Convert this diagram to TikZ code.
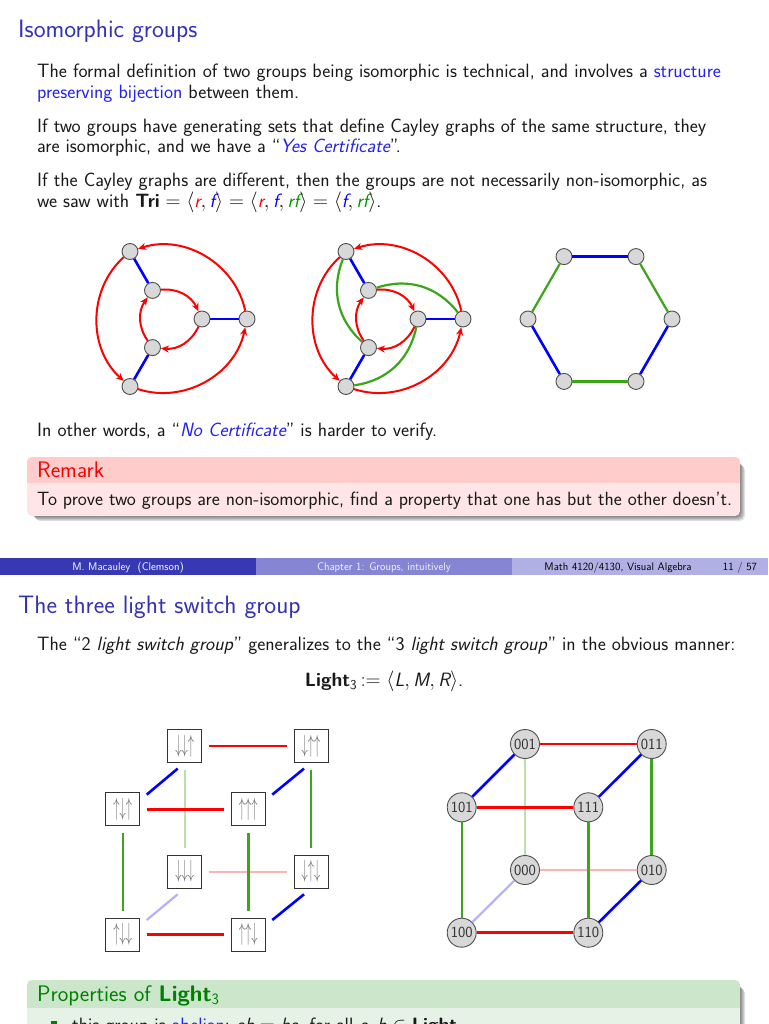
\documentclass[tikz,border=0pt]{standalone}
\usepackage{fontspec}
\usepackage{graphicx}
\renewcommand{\familydefault}{\sfdefault}
\usetikzlibrary{arrows.meta,calc}
\definecolor{sblue}{RGB}{51,51,179}
\definecolor{lnk}{RGB}{35,35,235}
\definecolor{egreen}{RGB}{0,128,0}
\definecolor{rfgreen}{RGB}{0,150,0}
\definecolor{gred}{RGB}{255,0,0}
\definecolor{gblue}{RGB}{0,0,255}
\definecolor{ggreen}{RGB}{60,165,25}
\definecolor{vfill}{RGB}{216,216,216}
\definecolor{vline}{RGB}{80,80,80}
\definecolor{arrgray}{RGB}{110,110,110}
\definecolor{remhd}{RGB}{255,204,204}
\definecolor{rembd}{RGB}{255,229,229}
\definecolor{exhd}{RGB}{204,230,204}
\definecolor{exbd}{RGB}{229,242,229}
\definecolor{txtc}{RGB}{25,25,25}
\definecolor{footA}{RGB}{56,56,180}
\definecolor{footB}{RGB}{133,133,212}
\definecolor{footC}{RGB}{176,176,228}
\newcommand{\bodyfont}{\fontsize{19.3}{23}\selectfont}
\newcommand{\titlefont}{\fontsize{25.2}{30}\selectfont}
\newcommand{\blockfont}{\fontsize{22.5}{27}\selectfont}
\newcommand{\footfont}{\fontsize{11}{13}\selectfont}
\newcommand{\arrs}[3]{\scalebox{0.5}[1]{$#1#2#3$}}
\newcommand{\vi}[1]{\mbox{\itshape #1}}
\tikzset{
 txt/.style={anchor=base west, inner sep=0pt, font=\bodyfont, text=txtc},
 ttl/.style={anchor=base west, inner sep=0pt, font=\titlefont, text=sblue},
 foot/.style={anchor=base, inner sep=0pt, font=\footfont},
 vtx/.style={circle, fill=vfill, draw=vline, line width=0.9pt, minimum size=16pt, inner sep=0pt},
 rarc/.style={draw=gred, line width=2pt, -{Stealth[length=8pt,width=7pt,inset=2.5pt]}},
 bspoke/.style={draw=gblue, line width=2.6pt},
 gedge/.style={draw=ggreen, line width=2.2pt},
 sbox/.style={draw=black!80, line width=1pt, minimum width=34pt, minimum height=33pt, inner sep=0pt, text=arrgray, font=\fontsize{32}{32}\selectfont},
 cnode/.style={circle, draw=vline, fill=vfill, line width=0.9pt, minimum size=29pt, inner sep=0pt, font=\fontsize{15.5}{15.5}\selectfont, text=black!80},
 redc/.style={draw=gred, line width=2.6pt},
 bluec/.style={draw=gblue, line width=2.6pt},
 greenc/.style={draw=ggreen, line width=2.4pt},
 lredc/.style={draw=gred!30, line width=2.2pt},
 lbluec/.style={draw=gblue!30, line width=2.2pt},
 lgreenc/.style={draw=ggreen!35, line width=2.2pt},
 gap/.style={shorten <=6.5pt, shorten >=6.5pt},
 inarc/.style={rarc, bend left=35},
 outarc/.style={rarc, bend right=48}
}
\begin{document}
\begin{tikzpicture}[x=1pt,y=-1pt]
\useasboundingbox (0,0) rectangle (768,1024);
\clip (0,0) rectangle (768,1024);
\fill[white] (0,0) rectangle (768,1024);

% ---------- slide 1 ----------
\node[ttl] (t1) at (18,38) {Isomorphic groups};
\node[txt] (p1a) at (37,78) {The formal definition of two groups being isomorphic is technical, and involves a \textcolor{lnk}{structure}};
\node[txt] (p1b) at (37,99) {\textcolor{lnk}{preserving bijection} between them.};
\node[txt] (p2a) at (37,133) {If two groups have generating sets that define Cayley graphs of the same structure, they};
\node[txt] (p2b) at (37,153) {are isomorphic, and we have a “\textcolor{lnk}{\itshape Yes Certificate}”.};
\node[txt] (p3a) at (37,187) {If the Cayley graphs are different, then the groups are not necessarily non-isomorphic, as};
\node[txt] (p3b) at (37,208) {we saw with $\mbox{\bfseries Tri}=\langle\textcolor{gred}{\vi{r}},\textcolor{gblue}{\vi{f}}\rangle=\langle\textcolor{gred}{\vi{r}},\textcolor{gblue}{\vi{f}},\textcolor{rfgreen}{\vi{rf}}\rangle=\langle\textcolor{gblue}{\vi{f}},\textcolor{rfgreen}{\vi{rf}}\rangle$.};

% graph 1
\coordinate (c1) at (169,319);
\node[vtx] (g1it) at ($(c1)+(-16.5,-28.6)$) {};
\node[vtx] (g1ir) at ($(c1)+(33,0)$) {};
\node[vtx] (g1ib) at ($(c1)+(-16.5,28.6)$) {};
\node[vtx] (g1ot) at ($(c1)+(-39,-67.5)$) {};
\node[vtx] (g1or) at ($(c1)+(78,0)$) {};
\node[vtx] (g1ob) at ($(c1)+(-39,67.5)$) {};
\draw[bspoke] (g1ot) -- (g1it);
\draw[bspoke] (g1ir) -- (g1or);
\draw[bspoke] (g1ib) -- (g1ob);
\draw[inarc] (g1it) to (g1ir);
\draw[inarc] (g1ir) to (g1ib);
\draw[inarc] (g1ib) to (g1it);
\draw[outarc] (g1or) to (g1ot);
\draw[outarc] (g1ot) to (g1ob);
\draw[outarc] (g1ob) to (g1or);

% graph 2
\coordinate (c2) at (385,319);
\node[vtx] (g2it) at ($(c2)+(-16.5,-28.6)$) {};
\node[vtx] (g2ir) at ($(c2)+(33,0)$) {};
\node[vtx] (g2ib) at ($(c2)+(-16.5,28.6)$) {};
\node[vtx] (g2ot) at ($(c2)+(-39,-67.5)$) {};
\node[vtx] (g2or) at ($(c2)+(78,0)$) {};
\node[vtx] (g2ob) at ($(c2)+(-39,67.5)$) {};
\draw[bspoke] (g2ot) -- (g2it);
\draw[bspoke] (g2ir) -- (g2or);
\draw[bspoke] (g2ib) -- (g2ob);
\draw[gedge] (g2ot) to[bend right=35] (g2ib);
\draw[gedge] (g2or) to[bend right=35] (g2it);
\draw[gedge] (g2ob) to[bend right=35] (g2ir);
\draw[inarc] (g2it) to (g2ir);
\draw[inarc] (g2ir) to (g2ib);
\draw[inarc] (g2ib) to (g2it);
\draw[outarc] (g2or) to (g2ot);
\draw[outarc] (g2ot) to (g2ob);
\draw[outarc] (g2ob) to (g2or);

% hexagon
\node[vtx] (h1) at (636,256.6) {};
\node[vtx] (h2) at (672,319) {};
\node[vtx] (h3) at (636,381.4) {};
\node[vtx] (h4) at (564,381.4) {};
\node[vtx] (h5) at (528,319) {};
\node[vtx] (h6) at (564,256.6) {};
\draw[bspoke] (h6) -- (h1);
\draw[gedge] (h1) -- (h2);
\draw[bspoke] (h2) -- (h3);
\draw[gedge] (h3) -- (h4);
\draw[bspoke] (h4) -- (h5);
\draw[gedge] (h5) -- (h6);

\node[txt] (p4) at (37,436) {In other words, a “\textcolor{lnk}{\itshape No Certificate}” is harder to verify.};

% remark block
\foreach \k in {0,...,4}{\fill[black,opacity=0.11,rounded corners=5pt] (31+\k,461+\k) rectangle (741+\k,517+\k);}
\begin{scope}
\clip[rounded corners=5pt] (27,457) rectangle (740,516);
\fill[rembd] (27,457) rectangle (740,516);
\fill[remhd] (27,457) rectangle (740,483);
\end{scope}
\node[anchor=base west, inner sep=0pt, font=\blockfont, text=gred] (remt) at (37,477) {Remark};
\node[txt, font=\fontsize{19.15}{23}\selectfont] (remb) at (37,505) {To prove two groups are non-isomorphic, find a property that one has but the other doesn't.};

% footline
\fill[footA] (0,558) rectangle (256,575);
\fill[footB] (256,558) rectangle (512,575);
\fill[footC] (512,558) rectangle (768,575);
\node[foot, text=white] (fa) at (128,570) {M. Macauley\ \ (Clemson)};
\node[foot, text=white!92!footB] (fb) at (384,570) {Chapter 1: Groups, intuitively};
\node[foot, text=black] (fc) at (618,570) {Math 4120/4130, Visual Algebra};
\node[foot, text=black] (fd) at (740,570) {11 / 57};

% ---------- slide 2 ----------
\node[ttl] (t2) at (18,613) {The three light switch group};
\node[txt] (q1) at (37,650) {The “2 \textit{light switch group}” generalizes to the “3 \textit{light switch group}” in the obvious manner:};
\node[anchor=base, inner sep=0pt, font=\bodyfont, text=txtc] (q2) at (384,686) {\textbf{Light}\textsubscript{3}\,$:=\bigl\langle\vi{L},\vi{M},\vi{R}\bigr\rangle$.};

% left cube
\node[sbox] (bDDU) at (184.7,746) {\arrs{\downarrow}{\downarrow}{\uparrow}};
\node[sbox] (bDUU) at (311,746) {\arrs{\downarrow}{\uparrow}{\uparrow}};
\node[sbox] (bUDU) at (122.7,809.3) {\arrs{\uparrow}{\downarrow}{\uparrow}};
\node[sbox] (bUUU) at (248.3,809.3) {\arrs{\uparrow}{\uparrow}{\uparrow}};
\node[sbox] (bDDD) at (184.7,871.7) {\arrs{\downarrow}{\downarrow}{\downarrow}};
\node[sbox] (bDUD) at (311,871.7) {\arrs{\downarrow}{\uparrow}{\downarrow}};
\node[sbox] (bUDD) at (122.7,934.7) {\arrs{\uparrow}{\downarrow}{\downarrow}};
\node[sbox] (bUUD) at (248.3,934.7) {\arrs{\uparrow}{\uparrow}{\downarrow}};
\draw[lgreenc,gap] (bDDU) -- (bDDD);
\draw[lredc,gap] (bDDD) -- (bDUD);
\draw[lbluec] ([xshift=6.5pt,yshift=-2.3pt]bUDD.north east) -- ([xshift=-7pt,yshift=-5.6pt]bDDD.south);
\draw[redc,gap] (bDDU) -- (bDUU);
\draw[redc,gap] (bUDU) -- (bUUU);
\draw[redc,gap] (bUDD) -- (bUUD);
\draw[greenc,gap] (bUDU) -- (bUDD);
\draw[greenc,gap] (bUUU) -- (bUUD);
\draw[greenc,gap] (bDUU) -- (bDUD);
\draw[bluec] ([xshift=6.5pt,yshift=-2.3pt]bUDU.north east) -- ([xshift=-7pt,yshift=-5.6pt]bDDU.south);
\draw[bluec] ([xshift=6.5pt,yshift=-2.3pt]bUUU.north east) -- ([xshift=-7pt,yshift=-5.6pt]bDUU.south);
\draw[bluec] ([xshift=6.5pt,yshift=-2.3pt]bUUD.north east) -- ([xshift=-7pt,yshift=-5.6pt]bDUD.south);

% right cube
\node[cnode] (n001) at (525,744) {001};
\node[cnode] (n011) at (651.7,744) {011};
\node[cnode] (n101) at (461.7,807.3) {101};
\node[cnode] (n111) at (588.3,807.3) {111};
\node[cnode] (n000) at (525,870) {000};
\node[cnode] (n010) at (651.7,870) {010};
\node[cnode] (n100) at (461.7,932.7) {100};
\node[cnode] (n110) at (588.3,932.7) {110};
\draw[draw=ggreen!35, line width=1.3pt] (n001) -- (n000);
\draw[lredc] (n000) -- (n010);
\draw[lbluec] (n100) -- (n000);
\draw[redc] (n001) -- (n011);
\draw[redc] (n101) -- (n111);
\draw[redc] (n100) -- (n110);
\draw[bluec] (n101) -- (n001);
\draw[bluec] (n111) -- (n011);
\draw[bluec] (n110) -- (n010);
\draw[greenc, line width=2pt] (n101) -- (n100);
\draw[greenc, line width=3pt] (n111) -- (n110);
\draw[greenc, line width=3pt] (n011) -- (n010);

% properties block
\foreach \k in {0,...,4}{\fill[black,opacity=0.11,rounded corners=5pt] (31+\k,984+\k) rectangle (741+\k,1060+\k);}
\begin{scope}
\clip[rounded corners=5pt] (27,980) rectangle (740,1060);
\fill[exbd] (27,980) rectangle (740,1060);
\fill[exhd] (27,980) rectangle (740,1008);
\end{scope}
\node[anchor=base west, inner sep=0pt, font=\blockfont, text=egreen] (pt) at (37,1001) {Properties of \textbf{Light}\textsubscript{3}};
\fill[egreen] (51,1021) rectangle (57,1027);
\node[txt] (pb) at (72,1031) {this group is \textcolor{lnk}{abelian}; $\vi{ab}=\vi{ba}$, for all $\vi{a},\vi{b}\in\mbox{\bfseries Light}_3$};
\end{tikzpicture}
\end{document}
